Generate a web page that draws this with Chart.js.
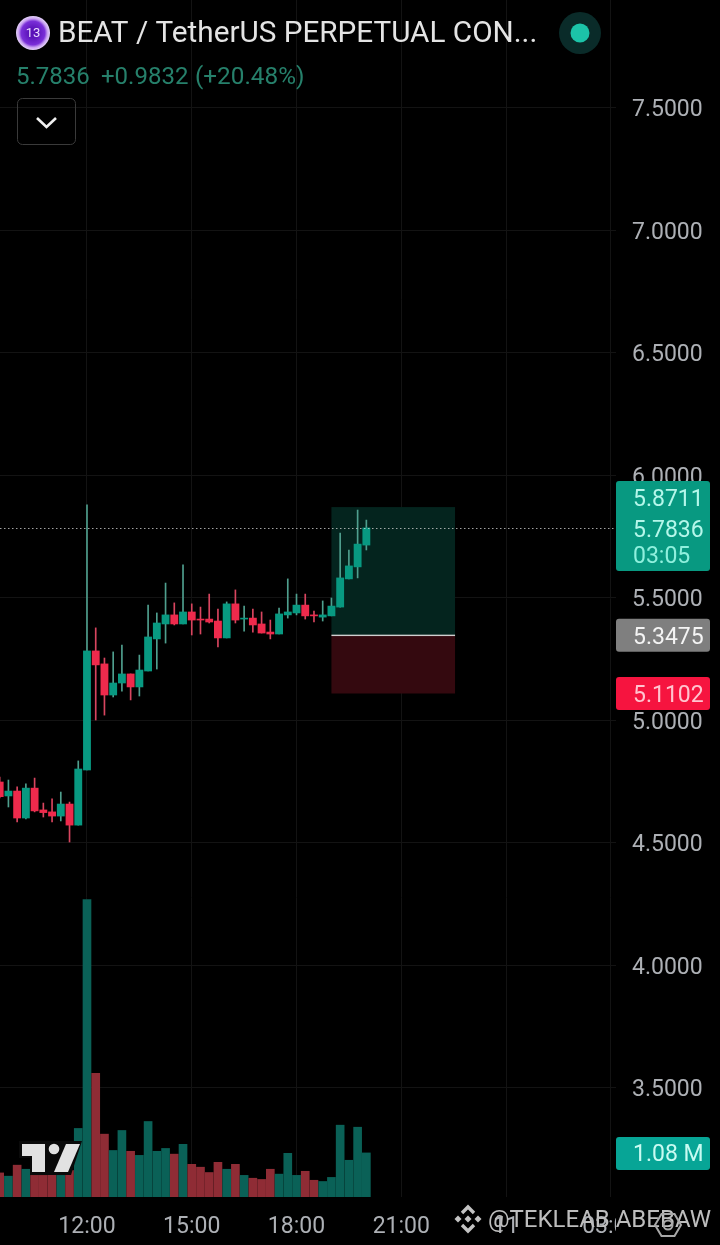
<!DOCTYPE html>
<html>
<head>
    <meta charset="utf-8" />
    <title>BEAT / TetherUS PERPETUAL CONTRACT</title>
    <script src="https://cdn.jsdelivr.net/npm/chart.js"></script>
    <style>
        html, body { margin: 0; padding: 0; background: #000; }
        canvas { display: block; }
    </style>
</head>
<body>
    <canvas id="chart" width="720" height="1245"></canvas>

    <script>
        // 15 minute candles
        const hours = [9.5,9.75,10,10.25,10.5,10.75,11,11.25,11.5,11.75,12,12.25,12.5,12.75,13,13.25,13.5,13.75,14,14.25,14.5,14.75,15,15.25,15.5,15.75,16,16.25,16.5,16.75,17,17.25,17.5,17.75,18,18.25,18.5,18.75,19,19.25,19.5,19.75,20];
        const opens = [4.749,4.692,4.712,4.602,4.724,4.635,4.627,4.610,4.659,4.573,4.798,5.284,5.231,5.104,5.153,5.190,5.137,5.202,5.333,5.394,5.431,5.394,5.443,5.414,5.414,5.406,5.337,5.476,5.414,5.418,5.394,5.361,5.353,5.431,5.439,5.471,5.431,5.422,5.427,5.463,5.578,5.627,5.716];
        const highs = [4.769,4.757,4.729,4.741,4.765,4.663,4.680,4.708,4.667,4.835,5.880,5.378,5.255,5.280,5.308,5.190,5.267,5.471,5.439,5.561,5.480,5.635,5.476,5.463,5.516,5.455,5.484,5.533,5.467,5.455,5.443,5.410,5.459,5.578,5.516,5.516,5.447,5.488,5.500,5.765,5.696,5.859,5.818];
        const lows = [4.684,4.647,4.586,4.598,4.627,4.606,4.586,4.590,4.504,4.573,4.798,5.002,5.022,5.096,5.120,5.084,5.100,5.202,5.210,5.316,5.390,5.394,5.349,5.353,5.398,5.300,5.337,5.398,5.365,5.361,5.357,5.333,5.353,5.418,5.431,5.414,5.402,5.406,5.427,5.463,5.578,5.582,5.696];
        const closes = [4.689,4.712,4.602,4.724,4.631,4.624,4.610,4.659,4.573,4.802,5.284,5.227,5.104,5.153,5.190,5.137,5.206,5.341,5.398,5.431,5.394,5.443,5.410,5.410,5.402,5.337,5.476,5.410,5.418,5.390,5.357,5.353,5.435,5.443,5.471,5.427,5.427,5.431,5.467,5.582,5.631,5.720,5.786];
        const volumes = [0.59,0.51,0.78,0.68,0.53,0.53,0.55,0.53,0.65,1.68,7.29,3.03,1.54,1.14,1.63,1.12,1.02,1.85,1.12,1.19,1.05,1.29,0.80,0.73,0.60,0.85,0.68,0.80,0.53,0.46,0.43,0.68,0.56,1.07,0.53,0.63,0.41,0.38,0.48,1.76,0.90,1.71,1.08];

        const xTickLabels = { 12: '12:00', 15: '15:00', 18: '18:00', 21: '21:00', 24: '11', 27: '03:00' };

        // long position tool
        const positionStart = 19;
        const positionEnd = 22.54;
        const targetPrice = 5.8711;
        const entryPrice = 5.3475;
        const stopPrice = 5.1102;
        const lastPrice = 5.7836;
        const lastVolume = 1.08;

        const GREEN = '#089981', RED = '#ee2a4c';
        const FONT = 'Roboto';
        const up = closes.map((c, i) => c >= opens[i]);

        function box(ctx, x, y, w, h, r, color) {
            ctx.fillStyle = color;
            ctx.beginPath();
            ctx.roundRect(x, y, w, h, r);
            ctx.fill();
        }

        function text(ctx, str, x, y, size, color, align) {
            ctx.font = size + 'px ' + FONT;
            ctx.fillStyle = color;
            ctx.textAlign = align || 'left';
            ctx.textBaseline = 'middle';
            ctx.fillText(str, x, y);
        }

        function poly(ctx, pts, color) {
            ctx.fillStyle = color;
            ctx.beginPath();
            pts.forEach((p, i) => i ? ctx.lineTo(p[0], p[1]) : ctx.moveTo(p[0], p[1]));
            ctx.closePath();
            ctx.fill();
        }

        // position box goes under the candles
        const positionPlugin = {
            id: 'position',
            beforeDatasetsDraw(chart) {
                const ctx = chart.ctx, x = chart.scales.x, y = chart.scales.y;
                const left = x.getPixelForValue(positionStart);
                const w = x.getPixelForValue(positionEnd) - left;
                const top = y.getPixelForValue(targetPrice);
                const mid = y.getPixelForValue(entryPrice);
                const bottom = y.getPixelForValue(stopPrice);
                ctx.save();
                ctx.fillStyle = '#04241e';
                ctx.fillRect(left, top, w, mid - top);
                ctx.fillStyle = '#34090f';
                ctx.fillRect(left, mid, w, bottom - mid);
                ctx.fillStyle = '#cfcfcf';
                ctx.fillRect(left, mid - 0.7, w, 1.4);
                ctx.restore();
            }
        };

        const overlayPlugin = {
            id: 'overlay',
            afterDraw(chart) {
                const ctx = chart.ctx, y = chart.scales.y, v = chart.scales.volume;
                const area = chart.chartArea;
                ctx.save();

                // last price line
                const lastY = y.getPixelForValue(lastPrice);
                ctx.strokeStyle = 'rgba(215,215,215,0.75)';
                ctx.lineWidth = 1;
                ctx.setLineDash([1.5, 2.5]);
                ctx.beginPath();
                ctx.moveTo(0, lastY);
                ctx.lineTo(area.right, lastY);
                ctx.stroke();
                ctx.setLineDash([]);

                // the time axis label is cut off where the price axis begins
                ctx.fillStyle = '#000';
                ctx.fillRect(area.right, area.bottom, 720 - area.right, 48);

                // price labels
                const boxX = area.right, boxW = 94, labelX = 633;
                box(ctx, boxX, y.getPixelForValue(targetPrice) - 26, boxW, 90, 3, '#089981');
                text(ctx, targetPrice.toFixed(4), labelX, y.getPixelForValue(targetPrice) - 7, 23, '#b5f7ea');
                text(ctx, lastPrice.toFixed(4), labelX, lastY + 3, 23, '#b5f7ea');
                text(ctx, '03:05', labelX, lastY + 29, 23, '#8ff0dd');

                const entryY = y.getPixelForValue(entryPrice);
                box(ctx, boxX, entryY - 16.5, boxW, 33, 3, '#7f7f7f');
                text(ctx, entryPrice.toFixed(4), labelX, entryY + 2.5, 23, '#f4f4f4');

                const stopY = y.getPixelForValue(stopPrice);
                box(ctx, boxX, stopY - 16.5, boxW, 33, 3, '#f6143f');
                text(ctx, stopPrice.toFixed(4), labelX, stopY + 2.5, 23, '#ffc4cf');

                const volY = v.getPixelForValue(lastVolume);
                box(ctx, boxX, volY - 16, boxW, 33, 3, '#07a596');
                text(ctx, lastVolume.toFixed(2) + ' M', labelX, volY + 2.5, 23, '#c8fbf2');

                // header
                const coin = ctx.createRadialGradient(33, 33, 4, 33, 33, 17);
                coin.addColorStop(0, '#5a12b8');
                coin.addColorStop(0.6, '#7a2fd8');
                coin.addColorStop(0.8, '#c9a2f2');
                coin.addColorStop(1, '#e4d2f8');
                ctx.fillStyle = coin;
                ctx.beginPath();
                ctx.arc(33, 33, 17, 0, Math.PI * 2);
                ctx.fill();
                text(ctx, '13', 33, 34, 13, '#eadcff', 'center');

                text(ctx, 'BEAT / TetherUS PERPETUAL CON...', 58, 35, 29.7, '#e4e4e4');
                text(ctx, '5.7836', 16, 78, 24, '#26806b');
                text(ctx, '+0.9832', 101, 78, 24, '#26806b');
                text(ctx, '(+20.48%)', 195, 78, 24.3, '#26806b');

                ctx.strokeStyle = '#3a3a3a';
                ctx.lineWidth = 1;
                ctx.beginPath();
                ctx.roundRect(17.5, 98.5, 58, 46, 5);
                ctx.stroke();
                ctx.strokeStyle = '#f0f0f0';
                ctx.lineWidth = 2.6;
                ctx.beginPath();
                ctx.moveTo(37, 118);
                ctx.lineTo(46.5, 127);
                ctx.lineTo(56, 118);
                ctx.stroke();

                ctx.fillStyle = '#0a2b29';
                ctx.beginPath();
                ctx.arc(580, 33, 21, 0, Math.PI * 2);
                ctx.fill();
                ctx.fillStyle = '#1cc3a8';
                ctx.beginPath();
                ctx.arc(580, 33, 9.5, 0, Math.PI * 2);
                ctx.fill();

                // tradingview mark
                poly(ctx, [[19, 1141], [82, 1141], [71, 1175], [30, 1175], [30, 1158], [19, 1158]], '#0a0a0a');
                poly(ctx, [[22, 1144], [45, 1144], [45, 1172], [32, 1172], [32, 1156], [22, 1156]], '#e2e2e2');
                ctx.fillStyle = '#e2e2e2';
                ctx.beginPath();
                ctx.arc(54, 1149, 5.3, 0, Math.PI * 2);
                ctx.fill();
                poly(ctx, [[66, 1144], [80, 1144], [68, 1172], [54, 1172]], '#e2e2e2');

                // binance logo + watermark
                const lx = 468, ly = 1219, logo = '#c4c4c4';
                poly(ctx, [[lx, ly - 3.5], [lx + 3.5, ly], [lx, ly + 3.5], [lx - 3.5, ly]], logo);
                poly(ctx, [[lx - 10, ly - 3.5], [lx - 6.5, ly], [lx - 10, ly + 3.5], [lx - 13.5, ly]], logo);
                poly(ctx, [[lx + 10, ly - 3.5], [lx + 13.5, ly], [lx + 10, ly + 3.5], [lx + 6.5, ly]], logo);
                ctx.strokeStyle = logo;
                ctx.lineWidth = 3.4;
                ctx.beginPath();
                ctx.moveTo(lx - 6, ly - 6);
                ctx.lineTo(lx, ly - 12);
                ctx.lineTo(lx + 6, ly - 6);
                ctx.moveTo(lx - 6, ly + 6);
                ctx.lineTo(lx, ly + 12);
                ctx.lineTo(lx + 6, ly + 6);
                ctx.stroke();
                text(ctx, '@TEKLEAB ABEBAW', 488, 1221, 24, '#bdbdbd');

                // settings hexagon
                ctx.strokeStyle = '#a8a8a8';
                ctx.lineWidth = 2;
                ctx.beginPath();
                [[-13, 0], [-6.5, -11], [6.5, -11], [13, 0], [6.5, 11], [-6.5, 11]].forEach((p, i) => {
                    i ? ctx.lineTo(668 + p[0], 1225 + p[1]) : ctx.moveTo(668 + p[0], 1225 + p[1]);
                });
                ctx.closePath();
                ctx.stroke();
                ctx.beginPath();
                ctx.arc(668, 1225, 4.5, 0, Math.PI * 2);
                ctx.stroke();

                ctx.restore();
            }
        };

        new Chart(document.getElementById('chart'), {
            type: 'bar',
            data: {
                datasets: [
                    {
                        label: 'Body',
                        data: hours.map((h, i) => ({ x: h, y: [opens[i], closes[i]] })),
                        backgroundColor: up.map(u => u ? GREEN : RED),
                        barThickness: 7.2,
                        grouped: false,
                        yAxisID: 'y'
                    },
                    {
                        label: 'Wick',
                        data: hours.map((h, i) => ({ x: h, y: [lows[i], highs[i]] })),
                        backgroundColor: up.map(u => u ? '#4f9f8e' : '#d8455f'),
                        barThickness: 1,
                        grouped: false,
                        yAxisID: 'y'
                    },
                    {
                        label: 'Volume',
                        data: hours.map((h, i) => ({ x: h, y: volumes[i] })),
                        backgroundColor: up.map(u => u ? '#0a6157' : '#8f2c35'),
                        barThickness: 8,
                        grouped: false,
                        yAxisID: 'volume'
                    }
                ]
            },
            options: {
                responsive: false,
                animation: false,
                devicePixelRatio: 1,
                layout: { padding: 0, autoPadding: false },
                plugins: { legend: { display: false }, tooltip: { enabled: false } },
                scales: {
                    x: {
                        type: 'linear',
                        offset: false,
                        min: 9.509,
                        max: 27.149,
                        afterFit(scale) { scale.height = 48; scale.paddingLeft = 0; scale.paddingRight = 0; },
                        grid: { color: '#131313', offset: false, drawTicks: false },
                        border: { display: false },
                        ticks: {
                            stepSize: 3,
                            includeBounds: false,
                            autoSkip: false,
                            maxRotation: 0,
                            padding: 16,
                            color: '#adb0b5',
                            font: { family: FONT, size: 23 },
                            callback: value => xTickLabels[value] || ''
                        }
                    },
                    y: {
                        position: 'right',
                        min: 3.0551,
                        max: 7.9408,
                        afterFit(scale) { scale.width = 104; scale.paddingTop = 0; scale.paddingBottom = 0; },
                        grid: { color: '#131313', drawTicks: false },
                        border: { display: false },
                        ticks: {
                            stepSize: 0.5,
                            includeBounds: false,
                            padding: 16,
                            labelOffset: 2.5,
                            color: '#adb0b5',
                            font: { family: FONT, size: 23 },
                            callback: value => value.toFixed(4)
                        }
                    },
                    volume: {
                        display: false,
                        min: 0,
                        max: 29.33
                    }
                }
            },
            plugins: [positionPlugin, overlayPlugin]
        });
    </script>
</body>
</html>
